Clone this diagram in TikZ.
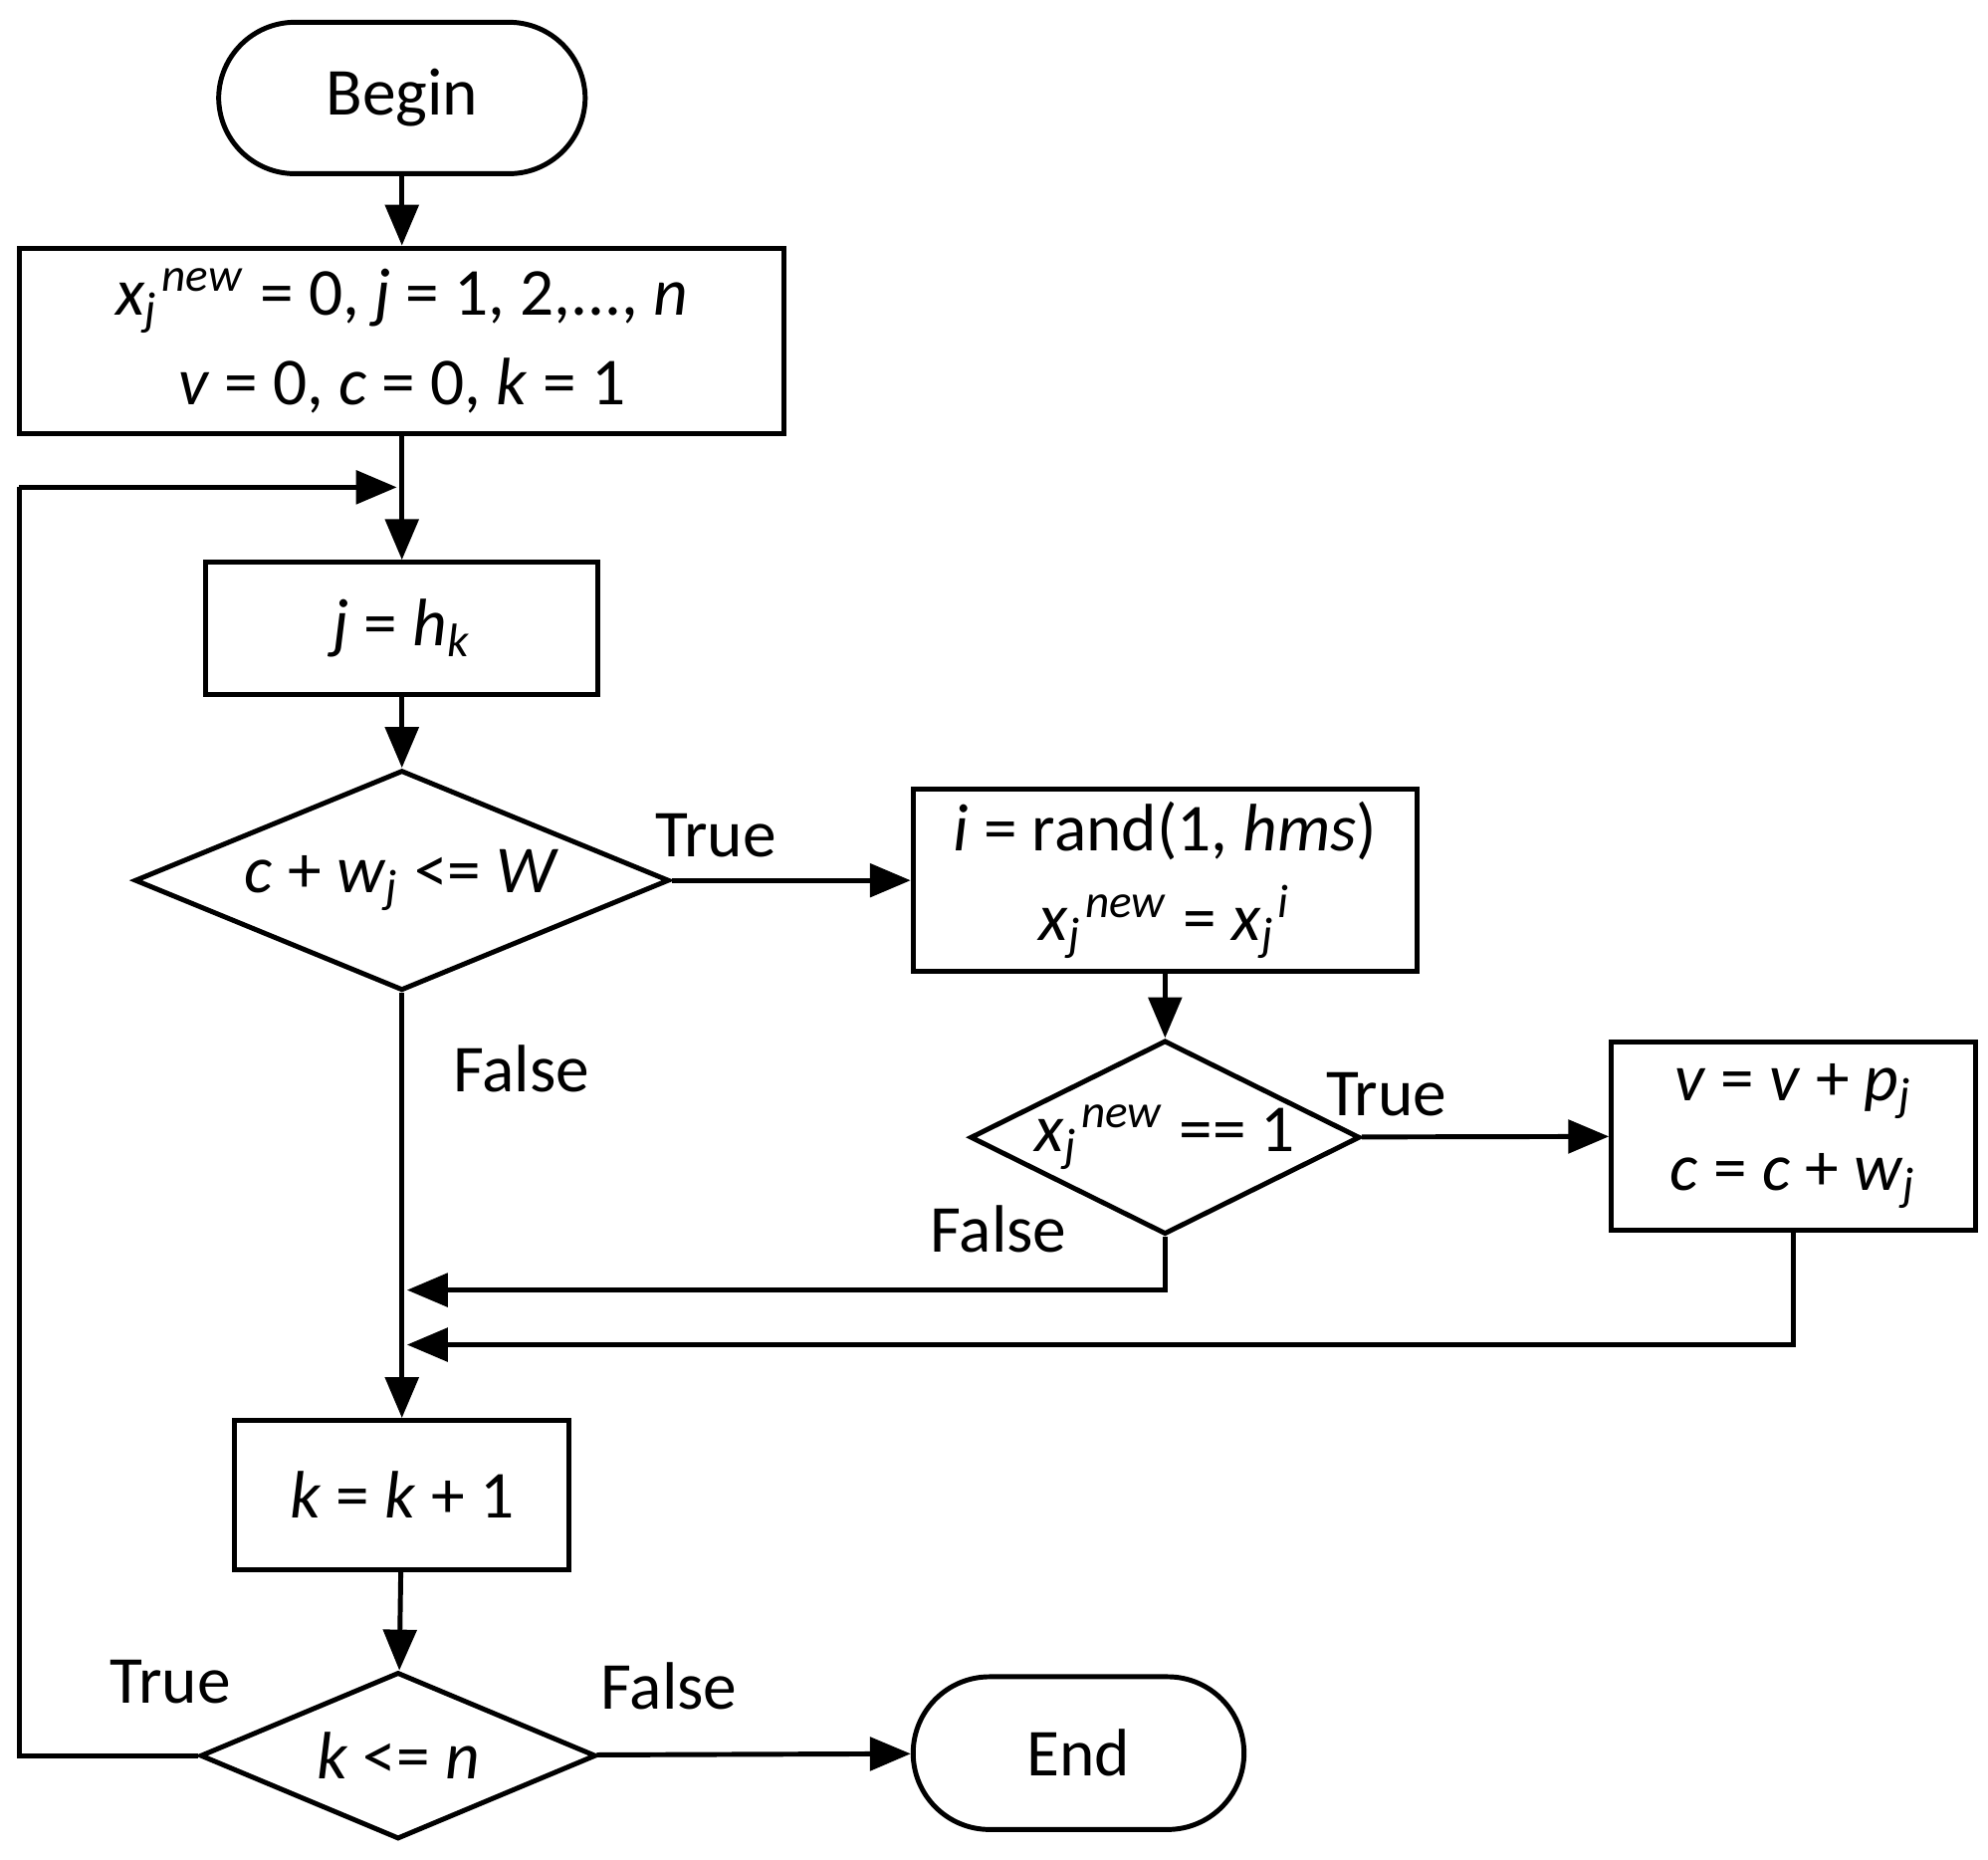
\documentclass[tikz,border=0pt]{standalone}
\usepackage{fontspec}
\setmainfont{Carlito}
\usetikzlibrary{shapes.geometric,arrows.meta}
\newcommand\xjnew{\textit{x}\rlap{\textsubscript{\textit{j}}}\kern0.25em\textsuperscript{\textit{new}}}
\newcommand\xji{\textit{x}\rlap{\textsubscript{\textit{j}}}\kern0.25em\textsuperscript{\textit{i}}}
\newcommand\sj{\textsubscript{\textit{j}}}
\begin{document}
\begin{tikzpicture}[x=0.01cm,y=-0.01cm,
  every node/.style={font=\fontsize{15}{20}\selectfont},
  box/.style={draw,line width=1.1pt,rectangle,inner sep=0pt,align=center},
  term/.style={draw,line width=1.1pt,rounded corners=0.6cm,inner sep=0pt},
  dia/.style={draw,line width=1.1pt,diamond,inner sep=0pt},
  lab/.style={inner sep=0pt},
  arr/.style={line width=1.1pt,-{Triangle[length=0.32cm,width=0.26cm]}},
  ln/.style={line width=1.1pt}]
\useasboundingbox (0,0) rectangle (1563,1462);
\node[term,minimum width=2.88cm,minimum height=1.19cm] (begin) at (316,77) {Begin};
\node[box,minimum width=6.01cm,minimum height=1.46cm] (init) at (316,268) {\xjnew\ = 0, \textit{j} = 1, 2,..., \textit{n}\\ \textit{v} = 0, \textit{c} = 0, \textit{k} = 1};
\node[box,minimum width=3.08cm,minimum height=1.04cm] (jh) at (316,494) {\textit{j} = \textit{h}\textsubscript{\textit{k}}};
\node[dia,aspect=2.43,minimum width=4.2cm,minimum height=1.73cm] (d1) at (316,692) {\textit{c} + \textit{w}\sj\ <= \textit{W}};
\node[box,minimum width=3.96cm,minimum height=1.43cm] (rnd) at (916,692) {\textit{i} = rand(1, \textit{hms})\\ \xjnew\ = \xji};
\node[dia,aspect=2.01,minimum width=3.06cm,minimum height=1.52cm] (d2) at (916,894) {\xjnew\ == 1};
\node[box,minimum width=2.86cm,minimum height=1.48cm] (vc) at (1410,893) {\textit{v} = \textit{v} + \textit{p}\sj\\ \textit{c} = \textit{c} + \textit{w}\sj};
\node[box,minimum width=2.63cm,minimum height=1.17cm] (kk) at (316,1175) {\textit{k} = \textit{k} + 1};
\node[dia,aspect=2.37,minimum width=3.11cm,minimum height=1.31cm] (d3) at (313,1380) {\textit{k} <= \textit{n}};
\node[term,minimum width=2.6cm,minimum height=1.2cm] (end) at (848,1378) {End};
\node[lab] (t1) at (563,657) {True};
\node[lab] (f1) at (410,840) {False};
\node[lab] (t2) at (1090,860) {True};
\node[lab] (f2) at (785,966) {False};
\node[lab] (t3) at (134,1322) {True};
\node[lab] (f3) at (526,1325) {False};
\coordinate (loopL) at (15,1380);
\coordinate (loopT) at (15,383);
\coordinate (loopE) at (312,383);
\coordinate (m1) at (320,1014);
\coordinate (m2) at (320,1057);
\draw[arr] (begin) -- (init);
\draw[arr] (init) -- (jh);
\draw[arr] (jh) -- (d1);
\draw[arr] (d1) -- (rnd);
\draw[arr] (rnd) -- (d2);
\draw[arr] (d2) -- (vc);
\draw[arr] (d1) -- (kk);
\draw[arr] (d2.south) |- (m1);
\draw[arr] (vc.south) |- (m2);
\draw[arr] (kk) -- (d3);
\draw[arr] (d3) -- (end);
\draw[ln] (d3.west) -- (loopL) -- (loopT);
\draw[arr] (loopT) -- (loopE);
\end{tikzpicture}
\end{document}
